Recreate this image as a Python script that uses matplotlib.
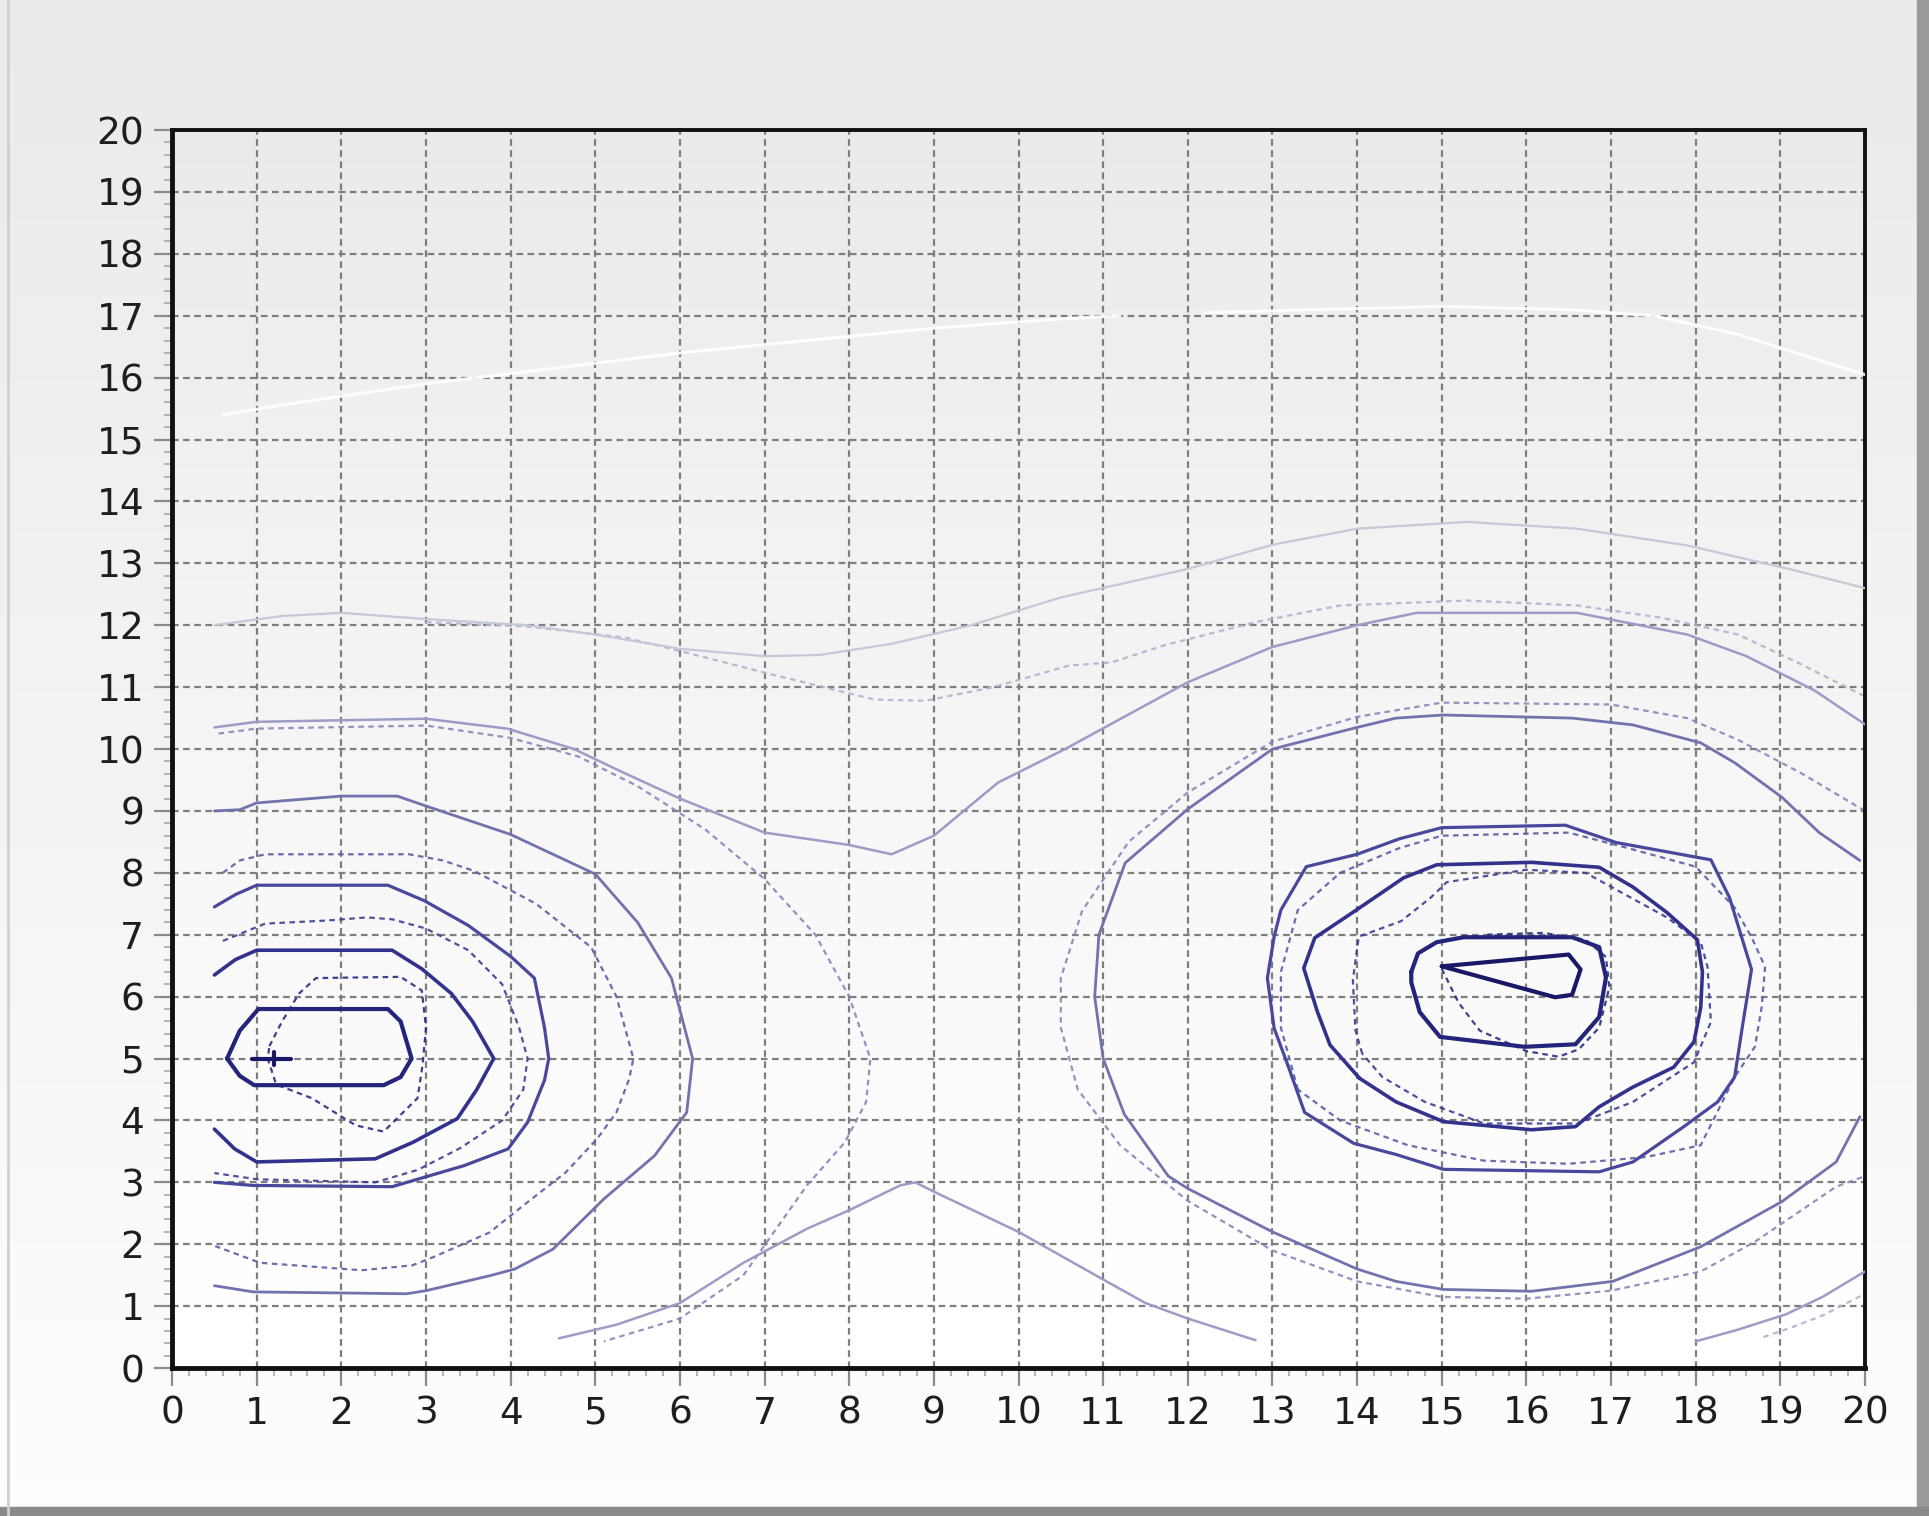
import numpy as np
import matplotlib
matplotlib.use("Agg")
import matplotlib.pyplot as plt
from matplotlib.colors import LinearSegmentedColormap
from matplotlib.ticker import MultipleLocator

# ---------------- data ----------------
x_ticks = list(range(0, 21))
y_ticks = list(range(0, 21))

# solid contour set (left hill)
L_cross_h = [(0.95, 5.0), (1.4, 5.0)]
L_cross_v = [(1.2, 4.9), (1.2, 5.1)]
L1 = [(0.65, 5.0), (0.8, 5.45), (1.02, 5.8), (2.55, 5.8), (2.7, 5.6), (2.83, 5.0),
      (2.7, 4.7), (2.5, 4.57), (0.97, 4.57), (0.8, 4.72), (0.65, 5.0)]
L2 = [(0.5, 6.35), (0.75, 6.6), (1.0, 6.75), (2.6, 6.75), (2.95, 6.45), (3.3, 6.05),
      (3.55, 5.6), (3.8, 5.0), (3.6, 4.5), (3.37, 4.03), (2.85, 3.65), (2.4, 3.38),
      (1.0, 3.33), (0.74, 3.54), (0.5, 3.86)]
L3 = [(0.5, 7.45), (0.75, 7.65), (1.0, 7.8), (2.55, 7.8), (2.98, 7.55), (3.5, 7.15),
      (4.0, 6.65), (4.28, 6.3), (4.4, 5.5), (4.45, 5.0), (4.4, 4.65), (4.2, 3.97),
      (3.97, 3.54), (3.45, 3.27), (2.9, 3.05), (2.6, 2.93), (0.96, 2.95), (0.5, 3.0)]
L4 = [(0.5, 9.0), (0.8, 9.02), (1.0, 9.13), (2.0, 9.24), (2.66, 9.24), (3.0, 9.08),
      (4.0, 8.62), (5.0, 7.98), (5.5, 7.2), (5.9, 6.3), (6.15, 5.0), (6.08, 4.13),
      (5.7, 3.43), (5.1, 2.73), (4.5, 1.92), (4.05, 1.6), (3.75, 1.49), (3.0, 1.25),
      (2.77, 1.2), (0.96, 1.23), (0.5, 1.33)]
# solid contour enclosing both hills (saddle level)
S_top = [(0.5, 10.35), (1.0, 10.44), (3.0, 10.49), (3.96, 10.33), (4.75, 10.0),
         (5.3, 9.64), (6.0, 9.2), (7.0, 8.65), (8.0, 8.45), (8.5, 8.3), (9.0, 8.6),
         (9.76, 9.46), (10.55, 10.0), (12.0, 11.08), (13.0, 11.65), (14.0, 12.0),
         (14.7, 12.2), (16.6, 12.2), (17.9, 11.85), (18.6, 11.5), (19.4, 10.95),
         (20.0, 10.4)]
S_bottom = [(4.57, 0.48), (5.25, 0.7), (6.0, 1.05), (6.75, 1.7), (7.5, 2.25),
            (8.0, 2.55), (8.6, 2.95), (8.78, 3.0), (9.0, 2.85), (10.0, 2.2),
            (11.0, 1.43), (11.5, 1.05), (12.0, 0.8), (12.8, 0.45)]
S_corner = [(18.0, 0.43), (18.5, 0.62), (19.07, 0.87), (19.5, 1.15), (20.0, 1.56)]
U1 = [(0.5, 12.0), (1.3, 12.15), (2.0, 12.2), (3.0, 12.1), (4.2, 12.0), (5.0, 11.85),
      (6.0, 11.62), (7.0, 11.5), (7.65, 11.52), (8.5, 11.7), (9.44, 12.0),
      (10.5, 12.45), (12.0, 12.91), (13.0, 13.3), (14.0, 13.56), (15.3, 13.67),
      (16.6, 13.56), (17.9, 13.29), (19.1, 12.91), (20.0, 12.6)]

# solid contour set (right hill)
R0 = [(15.0, 6.49), (16.5, 6.68), (16.64, 6.44), (16.54, 6.03), (16.34, 5.99), (15.0, 6.49)]
R1 = [(14.64, 6.4), (14.72, 6.7), (14.94, 6.88), (15.26, 6.96), (16.54, 6.96),
      (16.86, 6.8), (16.94, 6.31), (16.86, 5.67), (16.58, 5.23), (15.98, 5.19),
      (14.98, 5.35), (14.74, 5.75), (14.64, 6.23), (14.64, 6.4)]
R2 = [(14.03, 4.68), (13.68, 5.22), (13.53, 5.76), (13.37, 6.46), (13.5, 6.95),
      (13.97, 7.38), (14.55, 7.92), (14.94, 8.13), (16.06, 8.17), (16.86, 8.09),
      (17.26, 7.77), (17.66, 7.36), (18.02, 6.92), (18.08, 6.4), (18.06, 5.83),
      (17.98, 5.27), (17.74, 4.86), (17.26, 4.54), (16.86, 4.22), (16.58, 3.9),
      (16.06, 3.85), (15.02, 3.98), (14.46, 4.3), (14.03, 4.68)]
R3 = [(13.18, 4.9), (13.02, 5.49), (12.94, 6.3), (13.02, 6.97), (13.1, 7.4),
      (13.4, 8.1), (14.0, 8.3), (14.5, 8.55), (15.0, 8.73), (16.46, 8.77),
      (17.06, 8.49), (18.18, 8.21), (18.4, 7.6), (18.66, 6.44), (18.55, 5.5),
      (18.46, 4.7), (18.26, 4.3), (17.86, 3.9), (17.26, 3.33), (16.86, 3.17),
      (15.02, 3.21), (14.46, 3.45), (13.96, 3.63), (13.38, 4.13), (13.18, 4.9)]
R4 = [(19.94, 8.2), (19.46, 8.65), (19.02, 9.22), (18.46, 9.78), (18.06, 10.1),
      (17.26, 10.39), (16.54, 10.5), (15.02, 10.55), (14.46, 10.5), (14.0, 10.35),
      (13.0, 10.0), (12.0, 9.03), (11.26, 8.16), (10.95, 7.0), (10.9, 6.0),
      (11.0, 5.0), (11.25, 4.1), (11.77, 3.1), (12.0, 2.9), (13.0, 2.2), (14.0, 1.6),
      (14.46, 1.4), (15.02, 1.27), (16.06, 1.24), (17.02, 1.4), (18.06, 1.96),
      (19.02, 2.69), (19.66, 3.33), (19.94, 4.06)]

# dashed / dotted companion contour set
L1d = [(1.15, 5.2), (1.3, 5.6), (1.5, 6.05), (1.7, 6.3), (2.7, 6.32), (2.95, 6.1),
       (3.0, 5.5), (2.96, 4.9), (2.9, 4.36), (2.5, 3.82), (2.17, 3.92), (1.65, 4.36),
       (1.23, 4.58), (1.13, 5.0), (1.15, 5.2)]
L2d = [(0.6, 6.9), (1.1, 7.18), (1.83, 7.23), (2.3, 7.28), (2.6, 7.25), (3.0, 7.1),
       (3.5, 6.75), (3.9, 6.2), (4.1, 5.5), (4.2, 5.0), (4.15, 4.5), (3.9, 4.0),
       (3.4, 3.55), (2.9, 3.2), (2.4, 3.0), (1.0, 3.05), (0.5, 3.15)]
L3d = [(0.6, 8.0), (0.8, 8.2), (1.1, 8.3), (2.4, 8.3), (2.8, 8.3), (3.2, 8.2),
       (3.57, 8.03), (4.3, 7.5), (4.95, 6.8), (5.25, 6.0), (5.45, 5.0), (5.4, 4.67),
       (5.25, 4.13), (5.02, 3.7), (4.65, 3.16), (4.2, 2.68), (3.75, 2.19), (3.1, 1.8),
       (2.84, 1.66), (2.24, 1.58), (1.04, 1.7), (0.51, 1.97)]
L4d = [(0.55, 10.25), (1.0, 10.33), (3.0, 10.38), (4.0, 10.18), (4.8, 9.88),
       (5.5, 9.4), (6.3, 8.7), (7.0, 7.9), (7.6, 7.0), (8.0, 6.0), (8.25, 5.0),
       (8.2, 4.3), (7.95, 3.65), (7.5, 2.95), (6.75, 1.5), (6.0, 0.8), (5.1, 0.43)]
Ud = [(3.0, 12.05), (4.2, 11.98), (5.36, 11.8), (6.1, 11.55), (7.1, 11.2),
      (8.3, 10.8), (8.9, 10.78), (9.7, 11.0), (10.6, 11.35), (11.1, 11.4),
      (11.73, 11.68), (12.8, 12.05), (13.8, 12.32), (15.3, 12.4), (16.6, 12.32),
      (17.6, 12.12), (18.5, 11.85), (19.2, 11.4), (20.0, 10.85)]
Ud_corner = [(18.8, 0.5), (19.14, 0.66), (19.5, 0.85), (20.0, 1.2)]
R1d = [(15.0, 6.45), (15.2, 5.9), (15.45, 5.45), (16.0, 5.12), (16.38, 5.03),
       (16.62, 5.15), (16.86, 5.5), (16.98, 6.15), (16.94, 6.64), (16.7, 6.92),
       (16.2, 7.03), (15.5, 7.0)]
R2d = [(14.06, 5.08), (13.98, 5.46), (13.95, 6.27), (14.02, 6.97), (14.52, 7.22),
       (14.87, 7.6), (15.06, 7.85), (16.0, 8.05), (16.7, 8.0), (17.66, 7.28),
       (18.06, 6.88), (18.14, 6.48), (18.18, 5.59), (17.98, 4.94), (17.26, 4.3),
       (16.6, 3.95), (15.5, 3.95), (14.8, 4.3), (14.3, 4.7), (14.06, 5.08)]
R3d = [(13.3, 4.5), (13.1, 5.5), (13.1, 6.4), (13.3, 7.4), (13.8, 8.0), (14.5, 8.4),
       (15.0, 8.6), (16.5, 8.65), (17.2, 8.4), (18.0, 8.1), (18.46, 7.44),
       (18.66, 6.96), (18.82, 6.48), (18.78, 5.83), (18.7, 5.19), (18.46, 4.7),
       (18.06, 3.6), (17.42, 3.41), (16.5, 3.3), (15.5, 3.35), (14.6, 3.6),
       (13.8, 4.0), (13.3, 4.5)]
R4d = [(20.0, 9.0), (19.26, 9.6), (18.5, 10.15), (17.9, 10.5), (17.0, 10.72),
       (15.0, 10.75), (14.0, 10.52), (13.0, 10.12), (12.0, 9.3), (11.3, 8.5),
       (10.75, 7.38), (10.5, 6.3), (10.5, 5.5), (10.7, 4.5), (11.2, 3.6),
       (12.0, 2.7), (13.0, 1.9), (14.0, 1.4), (15.0, 1.15), (16.0, 1.12),
       (17.0, 1.25), (18.06, 1.56), (18.7, 2.04), (19.66, 2.93), (20.0, 3.1)]

# faint white contours in the upper (lowest-valued) area
W1 = [(0.6, 15.4), (1.5, 15.6), (3.0, 15.9), (4.5, 16.15), (6.0, 16.4), (7.5, 16.6),
      (9.0, 16.8), (10.5, 16.95), (11.2, 17.0)]
W2 = [(12.2, 17.05), (13.5, 17.1), (15.0, 17.15), (16.5, 17.1), (17.5, 17.0),
      (18.5, 16.7), (19.3, 16.35), (20.0, 16.05)]

# contour level of each line (0 = lowest / white, 7 = highest / darkest)
solid_lines = [(W1, 0), (W2, 0), (U1, 1), (S_top, 2), (S_bottom, 2), (S_corner, 2),
               (L4, 3), (R4, 3), (L3, 4), (R3, 4), (L2, 5), (R2, 5), (L1, 6), (R1, 6),
               (R0, 7), (L_cross_h, 7), (L_cross_v, 7)]
dashed_lines = [(Ud, 1.5), (Ud_corner, 1.5), (L4d, 2.5), (R4d, 2.5), (L3d, 3.5),
                (R3d, 3.5), (L2d, 4.5), (R2d, 4.5), (L1d, 5.5), (R1d, 5.5)]

# ---------------- figure ----------------
W, H, DPI = 1929, 1516, 100
fig = plt.figure(figsize=(W / DPI, H / DPI), dpi=DPI)

# figure background gradient (gray at top, near white at bottom)
bg = fig.add_axes([0, 0, 1, 1], zorder=-10)
grad = np.linspace(0.915, 0.99, 256).reshape(-1, 1)
bg.imshow(grad, cmap="gray", vmin=0, vmax=1, aspect="auto", extent=[0, 1, 0, 1],
          origin="upper")
bg.axvspan(0.9938, 1.0, color="#9a9a9a")
bg.axhspan(0.0, 0.0059, color="#8a8a8a")
bg.axvline(0.004, color="#d0d0d0", lw=2)
bg.set_xlim(0, 1)
bg.set_ylim(0, 1)
bg.axis("off")

ax = fig.add_axes([0.0892, 0.0976, 0.8776, 0.8166])
# plot-area gradient: light gray at the top fading to white at the bottom
pgrad = 0.915 + 0.085 * np.linspace(0, 1, 256).reshape(-1, 1) ** 0.9
ax.imshow(pgrad, cmap="gray", vmin=0, vmax=1, aspect="auto",
          extent=[0, 20, 0, 20], origin="upper", zorder=0)

cmap = LinearSegmentedColormap.from_list(
    "lv", ["#ffffff", "#c6c6da", "#9c9cc6", "#7272ae", "#48489c", "#32328c",
           "#24247a", "#181866"])
lws = [2.2, 1.6, 1.8, 2.0, 2.3, 2.6, 3.0, 3.0]

for pts, lev in solid_lines:
    xs = [p[0] for p in pts]
    ys = [p[1] for p in pts]
    a = 0.9 if lev == 0 else 1.0
    ax.plot(xs, ys, color=cmap(lev / 7), lw=lws[int(lev)], alpha=a,
            solid_joinstyle="round", solid_capstyle="round", zorder=3)

for pts, lev in dashed_lines:
    xs = [p[0] for p in pts]
    ys = [p[1] for p in pts]
    ax.plot(xs, ys, color=cmap(lev / 7), lw=1.6, linestyle=(0, (2.5, 2.0)),
            alpha=0.9, zorder=2)

ax.set_xlim(0, 20)
ax.set_ylim(0, 20)
ax.set_xticks(x_ticks)
ax.set_yticks(y_ticks)
ax.xaxis.set_minor_locator(MultipleLocator(0.2))
ax.yaxis.set_minor_locator(MultipleLocator(0.2))
ax.grid(which="major", color="#7e7e7e", linestyle=(0, (3, 2)), linewidth=1.6,
        zorder=1)
ax.set_axisbelow(True)
ax.tick_params(which="major", length=13, width=1.6, color="#8a8a8a",
               labelsize=27, labelcolor="#1e1e1e", pad=7)
ax.tick_params(which="minor", length=6, width=1.2, color="#a8a8a8")
for side in ["left", "bottom"]:
    ax.spines[side].set_linewidth(3.5)
for side in ["top", "right"]:
    ax.spines[side].set_linewidth(2.8)
for s in ax.spines.values():
    s.set_color("#111111")

fig.savefig("out.png", dpi=DPI)
